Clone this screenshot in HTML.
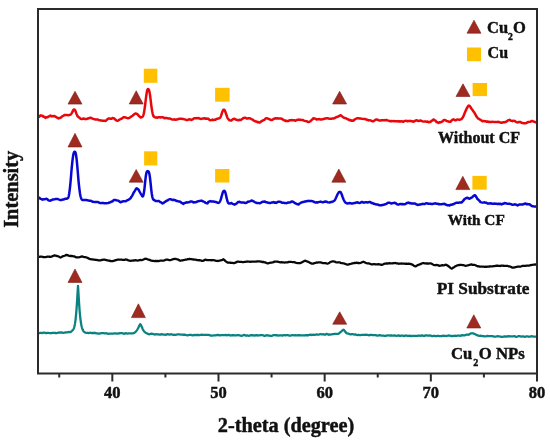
<!DOCTYPE html>
<html><head><meta charset="utf-8"><style>
html,body{margin:0;padding:0;background:#fff;}
svg{display:block;}
text{font-family:"Liberation Serif","Times New Roman",serif;font-weight:bold;fill:#111;stroke:#111;stroke-width:0.45px;}
.tl{font-size:16.5px;}
.lab{font-size:16px;}
.ax{font-size:20px;}
.tri{fill:#9e2a20;stroke:#7d1f18;stroke-width:0.6;}
.sq{fill:#ffc000;}
.c{fill:none;stroke-width:2.5;stroke-linejoin:round;stroke-linecap:round;}
</style></head><body>
<svg width="550" height="441" viewBox="0 0 550 441">
<rect width="550" height="441" fill="#fff"/>
<polyline class="c" stroke="#e8080c" points="38.50,117.25 39.50,116.56 40.50,115.37 41.50,115.65 42.50,115.69 43.50,116.78 44.50,116.85 45.50,117.90 46.50,117.13 47.50,117.33 48.50,116.47 49.50,116.14 50.50,115.56 51.50,116.30 52.50,116.12 53.50,116.17 54.50,115.94 55.50,116.67 56.50,117.31 57.50,117.72 58.50,118.44 59.50,117.94 60.50,117.73 61.50,117.10 62.50,116.16 63.50,115.66 64.50,115.11 65.50,115.08 66.40,115.10 66.50,115.11 66.65,115.10 66.90,115.08 67.15,115.09 67.40,115.12 67.50,115.13 67.65,115.14 67.90,115.15 68.15,115.16 68.40,115.16 68.50,115.16 68.65,115.13 68.90,115.07 69.15,115.00 69.40,114.92 69.50,114.89 69.65,114.87 69.90,114.82 70.15,114.74 70.40,114.62 70.50,114.57 70.65,114.46 70.90,114.24 71.15,113.96 71.40,113.61 71.50,113.45 71.65,113.23 71.90,112.81 72.15,112.36 72.40,111.88 72.50,111.69 72.65,111.37 72.90,110.85 73.15,110.37 73.40,109.96 73.50,109.82 73.65,109.68 73.90,109.53 74.15,109.49 74.40,109.55 74.50,109.60 74.65,109.72 74.90,110.01 75.15,110.40 75.40,110.91 75.50,111.13 75.65,111.51 75.90,112.18 76.15,112.89 76.40,113.62 76.50,113.91 76.65,114.26 76.90,114.81 77.15,115.37 77.40,115.92 77.50,116.12 77.65,116.32 77.90,116.62 78.15,116.84 78.40,117.02 78.50,117.08 78.65,117.19 78.90,117.35 79.15,117.48 79.40,117.59 79.50,117.63 79.65,117.80 79.90,118.09 80.15,118.36 80.40,118.64 80.50,118.74 80.65,118.84 80.90,118.88 81.15,118.92 81.40,118.96 81.50,118.97 81.65,118.97 81.90,118.96 82.15,118.95 82.40,118.94 82.50,118.93 83.50,118.52 84.50,118.93 85.50,119.04 86.50,119.08 87.50,118.60 88.50,118.43 89.50,117.96 90.50,117.84 91.50,118.01 92.50,118.54 93.50,118.95 94.50,119.34 95.50,119.41 96.50,119.61 97.50,119.48 98.50,119.95 99.50,120.12 100.50,120.48 101.50,120.56 102.50,120.68 103.50,120.83 104.50,120.79 105.50,121.04 106.50,120.17 107.50,119.23 108.50,118.39 109.50,118.52 110.50,118.82 111.50,118.79 112.50,118.05 113.50,118.14 114.50,118.75 115.50,119.77 116.50,120.52 117.50,120.78 118.50,120.32 119.50,119.61 120.50,119.18 121.50,118.69 122.50,118.10 123.50,117.28 124.50,117.33 125.50,117.42 126.50,117.91 127.50,118.16 128.00,118.18 128.25,118.19 128.50,118.19 128.75,118.10 129.00,118.00 129.25,117.89 129.50,117.77 129.75,117.61 130.00,117.41 130.25,117.20 130.50,116.98 130.75,116.87 131.00,116.74 131.25,116.59 131.50,116.44 131.75,116.28 132.00,116.10 132.25,115.92 132.50,115.72 132.75,115.51 133.00,115.29 133.25,115.10 133.50,114.91 133.75,114.69 134.00,114.48 134.25,114.28 134.50,114.09 134.75,113.91 135.00,113.75 135.25,113.61 135.50,113.51 135.75,113.54 136.00,113.60 136.25,113.69 136.50,113.81 136.75,113.88 137.00,113.98 137.25,114.10 137.50,114.25 137.75,114.55 138.00,114.86 138.25,115.19 138.50,115.53 138.75,115.75 139.00,115.97 139.25,116.18 139.50,116.39 139.75,116.66 140.00,116.92 140.20,117.12 140.25,117.17 140.45,117.36 140.50,117.40 140.70,117.42 140.75,117.42 140.95,117.41 141.00,117.41 141.20,117.36 141.25,117.34 141.45,117.26 141.50,117.24 141.70,117.22 141.75,117.22 141.95,117.16 142.00,117.13 142.20,117.02 142.25,116.98 142.45,116.80 142.50,116.75 142.70,116.50 142.75,116.42 142.95,116.07 143.00,115.97 143.20,115.51 143.25,115.37 143.45,114.77 143.50,114.60 143.70,113.85 143.75,113.64 143.95,112.73 144.00,112.48 144.20,111.41 144.45,109.89 144.50,109.56 144.70,108.16 144.95,106.27 145.20,104.27 145.45,102.21 145.50,101.80 145.70,100.13 145.95,98.08 146.20,96.15 146.45,94.38 146.50,94.05 146.70,92.83 146.95,91.53 147.20,90.50 147.45,89.75 147.50,89.63 147.70,89.31 147.95,89.12 148.20,89.10 148.45,89.20 148.50,89.23 148.70,89.48 148.95,90.00 149.20,90.79 149.45,91.85 149.50,92.10 149.70,93.17 149.95,94.74 150.20,96.51 150.45,98.45 150.50,98.85 150.70,100.47 150.95,102.54 151.20,104.59 151.45,106.58 151.50,106.96 151.70,108.35 151.95,109.93 152.20,111.34 152.45,112.56 152.50,112.78 152.70,113.71 152.95,114.70 153.20,115.51 153.45,116.13 153.50,116.23 153.70,116.47 153.95,116.67 154.20,116.77 154.45,116.81 154.50,116.80 154.70,116.99 154.95,117.18 155.20,117.34 155.45,117.48 155.50,117.51 155.70,117.52 155.95,117.52 156.20,117.52 156.50,117.51 157.50,117.75 158.50,117.17 159.50,117.23 160.50,117.55 161.50,117.16 162.50,117.30 163.50,117.49 164.50,118.26 165.50,117.97 166.50,118.06 167.50,118.21 168.50,118.62 169.50,118.40 170.50,118.77 171.50,119.23 172.50,119.50 173.50,119.63 174.50,119.31 175.50,119.77 176.50,119.57 177.50,119.47 178.50,118.94 179.50,118.81 180.50,118.71 181.50,118.83 182.50,118.93 183.50,119.05 184.50,119.34 185.50,119.64 186.50,120.05 187.50,120.10 188.50,119.49 189.50,119.30 190.50,119.60 191.50,120.00 192.50,119.46 193.50,118.65 194.50,118.25 195.50,118.21 196.50,118.12 197.50,118.16 198.50,118.06 199.50,118.51 200.50,118.69 201.50,118.95 202.50,118.56 203.50,118.55 204.50,118.19 205.50,118.77 206.50,118.48 207.50,118.66 208.50,118.73 209.50,120.00 210.50,120.21 211.50,120.12 212.50,119.60 213.50,120.04 214.50,119.71 215.50,119.67 215.90,119.42 216.15,119.26 216.40,119.10 216.50,119.04 216.65,118.96 216.90,118.84 217.15,118.76 217.40,118.70 217.50,118.68 217.65,118.66 217.90,118.62 218.15,118.57 218.40,118.50 218.50,118.47 218.65,118.45 218.90,118.39 219.15,118.29 219.40,118.15 219.50,118.07 219.65,118.00 219.90,117.83 220.15,117.59 220.40,117.28 220.50,117.13 220.65,116.79 220.90,116.16 221.15,115.48 221.40,114.75 221.50,114.45 221.65,113.98 221.90,113.18 222.15,112.42 222.40,111.70 222.50,111.43 222.65,111.07 222.90,110.55 223.15,110.13 223.40,109.84 223.50,109.75 223.65,109.70 223.90,109.69 224.15,109.77 224.40,109.95 224.50,110.06 224.65,110.27 224.90,110.72 225.15,111.29 225.40,111.95 225.50,112.23 225.65,112.63 225.90,113.32 226.15,114.04 226.40,114.76 226.50,115.04 226.65,115.50 226.90,116.24 227.15,116.93 227.40,117.54 227.50,117.77 227.65,118.06 227.90,118.48 228.15,118.83 228.40,119.12 228.50,119.22 228.65,119.41 228.90,119.70 229.15,119.95 229.40,120.17 229.50,120.25 229.65,120.29 229.90,120.34 230.15,120.38 230.40,120.42 230.50,120.43 230.65,120.45 230.90,120.49 231.15,120.48 231.40,120.44 231.50,120.42 231.65,120.26 231.90,120.00 232.50,119.36 233.50,118.99 234.50,118.69 235.50,119.31 236.50,119.78 237.50,119.96 238.50,120.34 239.50,119.77 240.50,120.11 241.50,119.41 242.50,118.94 243.50,117.90 244.50,117.81 245.50,117.78 246.50,118.46 247.50,118.44 248.50,118.24 249.50,118.21 250.50,118.64 251.50,119.14 252.50,119.57 253.50,120.34 254.50,121.00 255.50,121.45 256.50,121.49 257.50,122.13 258.50,122.08 259.50,122.57 260.50,122.04 261.50,121.12 262.50,120.80 263.50,120.13 264.50,119.84 265.50,118.59 266.50,118.15 267.50,118.45 268.50,118.86 269.50,119.26 270.50,119.81 271.50,119.94 272.50,119.70 273.50,119.00 274.50,118.63 275.50,118.30 276.50,118.52 277.50,118.33 278.50,118.40 279.50,118.50 280.50,118.59 281.50,118.75 282.50,119.20 283.50,119.95 284.50,120.35 285.50,120.93 286.50,120.79 287.50,121.13 288.50,120.97 289.50,120.22 290.50,120.35 291.50,120.09 292.50,120.29 293.50,120.32 294.50,120.37 295.50,120.71 296.50,120.09 297.50,119.98 298.50,119.53 299.50,119.86 300.50,119.68 301.50,119.95 302.50,119.92 303.50,120.46 304.50,120.87 305.50,121.04 306.50,121.18 307.50,121.70 308.50,121.92 309.50,121.75 310.50,121.24 311.50,120.17 312.50,119.28 313.50,118.22 314.50,118.51 315.50,118.77 316.50,119.54 317.50,119.19 318.50,119.27 319.50,119.08 320.50,119.46 321.50,119.43 322.50,119.32 323.50,118.97 324.50,118.85 325.50,118.40 326.50,118.27 327.50,118.17 328.50,118.54 329.50,118.74 330.50,118.69 331.50,118.69 331.80,118.62 332.05,118.56 332.30,118.49 332.50,118.43 332.55,118.44 332.80,118.47 333.05,118.48 333.30,118.46 333.50,118.43 333.55,118.43 333.80,118.38 334.05,118.32 334.30,118.26 334.50,118.21 334.55,118.18 334.80,118.02 335.05,117.85 335.30,117.69 335.50,117.55 335.55,117.53 335.80,117.40 336.05,117.28 336.30,117.15 336.50,117.05 336.55,117.04 336.80,116.99 337.05,116.93 337.30,116.89 337.50,116.85 337.55,116.83 337.80,116.69 338.05,116.56 338.30,116.45 338.50,116.36 338.55,116.33 338.80,116.19 339.05,116.06 339.30,115.94 339.50,115.86 339.55,115.82 339.80,115.64 340.05,115.48 340.30,115.33 340.50,115.22 340.55,115.24 340.80,115.36 341.05,115.49 341.30,115.64 341.50,115.76 341.55,115.81 341.80,116.05 342.05,116.29 342.30,116.55 342.50,116.76 342.55,116.79 342.80,116.97 343.05,117.15 343.30,117.34 343.50,117.49 343.55,117.51 343.80,117.62 344.05,117.73 344.30,117.84 344.50,117.92 344.55,117.94 344.80,118.00 345.05,118.07 345.30,118.13 345.50,118.17 345.55,118.18 345.80,118.25 346.05,118.32 346.30,118.37 346.50,118.41 346.55,118.46 346.80,118.67 347.05,118.88 347.30,119.09 347.50,119.25 347.55,119.26 347.80,119.33 348.50,119.49 349.50,120.20 350.50,119.98 351.50,120.77 352.50,120.59 353.50,120.65 354.50,119.68 355.50,119.06 356.50,118.45 357.50,118.30 358.50,118.28 359.50,118.55 360.50,118.39 361.50,118.72 362.50,118.87 363.50,118.90 364.50,119.03 365.50,118.91 366.50,119.64 367.50,119.76 368.50,120.38 369.50,120.18 370.50,120.38 371.50,120.81 372.50,121.24 373.50,121.15 374.50,120.42 375.50,119.75 376.50,119.50 377.50,119.62 378.50,120.26 379.50,120.41 380.50,120.47 381.50,120.15 382.50,120.25 383.50,120.14 384.50,120.12 385.50,120.23 386.50,119.99 387.50,120.37 388.50,120.67 389.50,121.10 390.50,121.25 391.50,121.08 392.50,121.13 393.50,121.04 394.50,121.22 395.50,121.31 396.50,121.18 397.50,121.16 398.50,121.54 399.50,121.31 400.50,121.51 401.50,121.16 402.50,121.69 403.50,121.65 404.50,120.98 405.50,120.87 406.50,120.75 407.50,121.31 408.50,120.99 409.50,121.03 410.50,120.87 411.50,121.37 412.50,121.26 413.50,121.82 414.50,121.17 415.50,120.60 416.50,120.23 417.50,120.58 418.50,121.05 419.50,120.70 420.50,120.57 421.50,120.87 422.50,121.35 423.50,121.60 424.50,121.58 425.50,121.58 426.50,121.65 427.50,121.53 428.50,122.32 429.50,121.96 430.50,121.89 431.50,120.74 432.50,120.52 433.50,119.47 434.50,120.01 435.50,120.51 436.50,122.11 437.50,122.29 438.50,123.00 439.50,122.20 440.50,122.39 441.50,121.87 442.50,121.41 443.50,120.23 444.50,119.97 445.50,120.12 446.50,120.93 447.50,121.13 448.50,121.56 449.50,121.78 450.50,121.79 451.50,120.61 452.50,119.65 453.50,119.33 454.50,120.00 455.50,120.34 456.50,119.90 457.50,119.46 458.50,119.63 459.50,119.90 460.50,119.46 461.50,119.06 462.50,117.96 463.50,116.13 464.50,113.53 465.50,111.11 466.50,108.90 467.50,107.06 468.50,105.61 469.50,105.77 470.50,107.07 471.50,108.76 472.50,110.00 473.50,111.51 474.50,112.84 475.50,114.70 476.50,116.55 477.50,117.84 478.50,118.69 479.50,119.23 480.50,119.83 481.50,120.53 482.50,121.29 483.50,120.89 484.50,121.27 485.50,121.17 486.50,121.78 487.50,121.51 488.50,121.93 489.50,121.85 490.50,121.92 491.50,122.03 492.50,121.79 493.50,121.88 494.50,121.91 495.50,122.04 496.50,122.12 497.50,121.90 498.50,121.84 499.50,122.24 500.50,122.49 501.50,122.73 502.50,122.49 503.50,122.26 504.50,122.26 505.50,122.07 506.50,121.44 507.50,120.79 508.50,120.15 509.50,119.81 510.50,120.47 511.50,120.82 512.50,121.17 513.50,120.70 514.50,120.89 515.50,121.52 516.50,122.02 517.50,122.46 518.50,122.10 519.50,122.08 520.50,122.12 521.50,122.72 522.50,123.03 523.50,123.15 524.50,123.21 525.50,123.31 526.50,122.82 527.50,122.29 528.50,121.98 529.50,121.88 530.50,121.78 531.50,121.05 532.50,121.07 533.50,121.53 534.50,121.81 535.50,122.19 536.50,122.51"/>
<polyline class="c" stroke="#0808d2" points="38.50,197.62 39.50,197.77 40.50,198.90 41.50,199.15 42.50,199.70 43.50,199.28 44.50,199.26 45.50,199.06 46.50,198.75 47.50,199.34 48.50,200.30 49.50,200.70 50.50,200.49 51.50,200.03 52.50,199.58 53.50,199.53 54.50,199.38 55.50,199.04 56.50,199.05 57.50,198.88 58.50,199.31 59.50,199.67 60.50,199.94 61.50,199.94 62.50,199.61 63.50,199.48 64.50,199.06 65.50,198.73 66.50,198.71 66.60,198.70 66.85,198.65 67.10,198.56 67.35,198.41 67.50,198.28 67.60,198.24 67.85,198.06 68.10,197.77 68.35,197.33 68.50,196.98 68.60,196.57 68.85,195.41 69.10,194.03 69.35,192.41 69.50,191.32 69.60,190.60 69.85,188.63 70.10,186.41 70.35,183.96 70.50,182.39 70.60,181.26 70.85,178.33 71.10,175.29 71.35,172.20 71.50,170.35 71.60,169.25 71.85,166.58 72.10,164.05 72.35,161.72 72.50,160.44 72.60,159.57 72.85,157.58 73.10,155.91 73.35,154.56 73.50,153.92 73.60,153.51 73.85,152.72 74.10,152.20 74.35,151.92 74.50,151.84 74.60,151.81 74.85,151.78 75.10,151.91 75.35,152.28 75.50,152.64 75.60,152.97 75.85,154.01 76.10,155.38 76.35,157.09 76.50,158.26 76.60,159.12 76.85,161.45 77.10,164.03 77.35,166.82 77.50,168.56 77.60,169.75 77.85,172.77 78.10,175.80 78.35,178.78 78.50,180.52 78.60,181.59 78.85,184.12 79.10,186.46 79.35,188.56 79.50,189.71 79.60,190.53 79.85,192.39 80.10,194.00 80.35,195.38 80.50,196.09 80.60,196.50 80.85,197.37 81.10,198.07 81.35,198.62 81.50,198.89 81.60,199.07 81.85,199.45 82.10,199.75 82.35,199.99 82.50,200.11 82.60,200.12 83.50,200.06 84.50,199.88 85.50,199.92 86.50,199.96 87.50,200.33 88.50,200.59 89.50,200.68 90.50,200.67 91.50,201.11 92.50,201.73 93.50,201.85 94.50,202.11 95.50,202.11 96.50,202.07 97.50,202.10 98.50,202.23 99.50,202.82 100.50,203.16 101.50,202.89 102.50,203.08 103.50,203.01 104.50,203.32 105.50,203.16 106.50,203.21 107.50,203.12 108.50,202.92 109.50,202.39 110.50,202.28 111.50,201.56 112.50,201.51 113.50,200.29 114.50,199.93 115.50,199.97 116.50,200.36 117.50,200.59 118.50,200.65 119.50,201.56 120.50,202.14 121.50,202.09 122.50,201.37 123.50,201.20 124.50,201.37 125.50,201.37 126.50,200.75 127.50,200.11 128.50,199.79 128.80,199.58 129.05,199.39 129.30,199.18 129.50,199.01 129.55,198.97 129.80,198.80 130.05,198.61 130.30,198.46 130.50,198.32 130.55,198.25 130.80,197.85 131.05,197.43 131.30,196.98 131.50,196.60 131.55,196.54 131.80,196.22 132.05,195.87 132.30,195.49 132.50,195.18 132.55,195.07 132.80,194.55 133.05,194.00 133.30,193.45 133.50,193.00 133.55,192.92 133.80,192.50 134.05,192.09 134.30,191.69 134.50,191.38 134.55,191.29 134.80,190.85 135.05,190.45 135.30,190.08 135.50,189.81 135.55,189.72 135.80,189.28 136.05,188.89 136.30,188.56 136.50,188.34 136.55,188.34 136.80,188.37 137.05,188.46 137.30,188.61 137.50,188.78 137.55,188.80 137.80,188.95 138.05,189.15 138.30,189.40 138.50,189.63 138.55,189.72 138.80,190.17 139.05,190.64 139.30,191.15 139.50,191.56 139.55,191.64 139.80,192.06 140.05,192.49 140.30,192.91 140.50,193.24 140.55,193.33 140.80,193.73 141.05,194.11 141.30,194.47 141.50,194.73 141.55,194.84 141.80,195.36 142.05,195.82 142.30,196.21 142.50,196.42 142.55,196.43 142.80,196.37 143.05,196.08 143.30,195.51 143.50,194.83 143.55,194.62 143.80,193.37 144.05,191.80 144.30,189.96 144.50,188.32 144.55,187.84 144.80,185.42 145.05,182.96 145.30,180.57 145.50,178.78 145.55,178.36 145.80,176.43 146.05,174.78 146.30,173.45 146.50,172.61 146.55,172.44 146.80,171.80 147.05,171.40 147.30,171.19 147.50,171.11 147.55,171.11 147.80,171.15 148.05,171.20 148.30,171.32 148.50,171.50 148.55,171.56 148.80,171.98 149.05,172.63 149.30,173.58 149.50,174.57 149.55,174.85 149.80,176.43 150.05,178.31 150.30,180.44 150.50,182.27 150.55,182.75 150.80,185.16 151.05,187.56 151.30,189.85 151.50,191.54 151.55,191.94 151.80,193.78 152.05,195.33 152.30,196.66 152.50,197.52 152.55,197.70 152.80,198.46 153.05,199.02 153.30,199.43 153.50,199.67 153.55,199.71 153.80,199.90 154.05,200.03 154.30,200.06 154.50,200.08 154.55,200.13 154.80,200.35 155.05,200.58 155.30,200.80 155.50,200.98 155.55,200.98 155.80,200.97 156.50,200.97 157.50,201.13 158.50,200.90 159.50,201.52 160.50,202.21 161.50,202.65 162.50,203.37 163.50,203.01 164.50,202.16 165.50,201.68 166.50,200.66 167.50,200.42 168.50,199.61 169.50,199.33 170.50,199.33 171.50,199.50 172.50,200.08 173.50,199.70 174.50,200.04 175.50,200.22 176.50,201.09 177.50,201.07 178.50,201.39 179.50,201.51 180.50,201.85 181.50,202.84 182.50,203.25 183.50,203.98 184.50,202.96 185.50,202.73 186.50,202.31 187.50,202.46 188.50,202.30 189.50,202.09 190.50,201.47 191.50,201.61 192.50,201.76 193.50,202.50 194.50,202.21 195.50,202.36 196.50,201.84 197.50,201.46 198.50,201.12 199.50,200.95 200.50,200.80 201.50,200.62 202.50,201.09 203.50,201.62 204.50,201.89 205.50,202.84 206.50,203.16 207.50,203.39 208.50,201.78 209.50,201.48 210.50,201.10 211.50,201.48 212.50,201.39 213.50,201.51 214.50,201.72 215.50,201.93 216.00,202.07 216.25,202.14 216.50,202.21 216.75,202.34 217.00,202.46 217.25,202.57 217.50,202.69 217.75,202.76 218.00,202.82 218.25,202.87 218.50,202.89 218.75,202.75 219.00,202.57 219.25,202.35 219.50,202.05 219.75,201.72 220.00,201.30 220.25,200.77 220.50,200.13 220.75,199.46 221.00,198.68 221.25,197.82 221.50,196.90 221.75,195.98 222.00,195.08 222.25,194.22 222.50,193.46 222.75,192.64 223.00,191.97 223.25,191.45 223.50,191.08 223.75,190.90 224.00,190.82 224.25,190.82 224.50,190.91 224.75,191.21 225.00,191.65 225.25,192.25 225.50,192.99 225.75,193.99 226.00,195.08 226.25,196.22 226.50,197.37 226.75,198.45 227.00,199.47 227.25,200.41 227.50,201.24 227.75,201.91 228.00,202.47 228.25,202.92 228.50,203.27 228.75,203.43 229.00,203.52 229.25,203.55 229.50,203.55 229.75,203.53 230.00,203.49 230.25,203.44 230.50,203.38 230.75,203.30 231.00,203.22 231.25,203.13 231.50,203.04 231.75,203.24 232.00,203.43 232.50,203.82 233.50,204.13 234.50,204.64 235.50,204.22 236.50,203.54 237.50,202.58 238.50,201.91 239.50,201.85 240.50,202.36 241.50,202.56 242.50,202.43 243.50,202.52 244.50,202.76 245.50,203.04 246.50,202.82 247.50,201.85 248.50,201.81 249.50,201.39 250.50,201.14 251.50,200.54 252.50,200.70 253.50,201.33 254.50,202.00 255.50,202.51 256.50,202.88 257.50,202.89 258.50,203.12 259.50,203.20 260.50,202.94 261.50,202.32 262.50,201.71 263.50,201.77 264.50,201.44 265.50,201.96 266.50,202.22 267.50,202.55 268.50,202.84 269.50,203.00 270.50,202.95 271.50,202.54 272.50,202.46 273.50,202.09 274.50,202.81 275.50,202.48 276.50,202.90 277.50,202.03 278.50,201.82 279.50,201.68 280.50,201.90 281.50,202.45 282.50,202.71 283.50,202.76 284.50,203.00 285.50,203.10 286.50,203.13 287.50,202.78 288.50,202.58 289.50,202.47 290.50,202.37 291.50,201.50 292.50,201.58 293.50,201.98 294.50,202.84 295.50,203.26 296.50,203.96 297.50,204.36 298.50,204.46 299.50,203.53 300.50,203.01 301.50,202.45 302.50,202.11 303.50,202.00 304.50,201.60 305.50,201.62 306.50,201.24 307.50,201.02 308.50,200.86 309.50,200.89 310.50,201.07 311.50,201.04 312.50,201.15 313.50,201.58 314.50,202.17 315.50,202.55 316.50,202.35 317.50,202.51 318.50,202.12 319.50,201.86 320.50,201.62 321.50,201.92 322.50,202.30 323.50,202.20 324.50,201.77 325.50,201.49 326.50,201.71 327.50,202.28 328.50,202.37 329.50,202.55 330.50,202.07 331.50,202.09 331.60,202.05 331.85,201.94 332.10,201.82 332.35,201.69 332.50,201.61 332.60,201.58 332.85,201.51 333.10,201.42 333.35,201.32 333.50,201.25 333.60,201.19 333.85,201.04 334.10,200.85 334.35,200.61 334.50,200.44 334.60,200.31 334.85,199.95 335.10,199.53 335.35,199.06 335.50,198.75 335.60,198.56 335.85,198.07 336.10,197.54 336.35,196.97 336.50,196.62 336.60,196.39 336.85,195.83 337.10,195.27 337.35,194.73 337.50,194.42 337.60,194.21 337.85,193.71 338.10,193.27 338.35,192.91 338.50,192.72 338.60,192.58 338.85,192.29 339.10,192.09 339.35,191.97 339.50,191.93 339.60,191.90 339.85,191.86 340.10,191.89 340.35,192.01 340.50,192.12 340.60,192.24 340.85,192.59 341.10,193.02 341.35,193.52 341.50,193.84 341.60,194.11 341.85,194.80 342.10,195.52 342.35,196.26 342.50,196.71 342.60,196.98 342.85,197.65 343.10,198.29 343.35,198.91 343.50,199.26 343.60,199.50 343.85,200.05 344.10,200.55 344.35,200.99 344.50,201.24 344.60,201.40 344.85,201.79 345.10,202.12 345.35,202.41 345.50,202.57 345.60,202.65 345.85,202.82 346.10,202.97 346.35,203.09 346.50,203.15 346.60,203.20 346.85,203.29 347.10,203.37 347.35,203.45 347.50,203.50 347.60,203.46 348.50,203.13 349.50,203.06 350.50,203.15 351.50,203.48 352.50,203.56 353.50,203.13 354.50,202.90 355.50,202.95 356.50,202.41 357.50,202.30 358.50,202.86 359.50,203.12 360.50,202.66 361.50,201.97 362.50,201.97 363.50,202.63 364.50,202.50 365.50,202.25 366.50,202.29 367.50,202.46 368.50,202.22 369.50,202.10 370.50,202.06 371.50,203.05 372.50,203.11 373.50,203.66 374.50,203.76 375.50,204.30 376.50,204.43 377.50,204.60 378.50,204.80 379.50,205.27 380.50,205.18 381.50,205.25 382.50,204.92 383.50,204.69 384.50,204.52 385.50,204.15 386.50,203.84 387.50,202.94 388.50,202.65 389.50,202.67 390.50,203.05 391.50,203.55 392.50,203.11 393.50,202.88 394.50,202.80 395.50,202.90 396.50,204.02 397.50,204.41 398.50,204.61 399.50,204.13 400.50,203.89 401.50,204.18 402.50,204.00 403.50,204.14 404.50,204.17 405.50,203.93 406.50,203.24 407.50,202.82 408.50,202.62 409.50,203.13 410.50,203.11 411.50,203.49 412.50,203.45 413.50,203.59 414.50,203.44 415.50,203.68 416.50,204.45 417.50,204.90 418.50,204.85 419.50,204.58 420.50,204.56 421.50,204.12 422.50,203.86 423.50,204.01 424.50,204.06 425.50,203.56 426.50,203.14 427.50,203.46 428.50,203.77 429.50,203.71 430.50,203.71 431.50,204.00 432.50,204.07 433.50,203.62 434.50,203.41 435.50,203.36 436.50,203.73 437.50,203.63 438.50,204.15 439.50,204.12 440.50,204.36 441.50,204.31 442.50,203.92 443.50,203.94 444.50,203.72 445.50,204.50 446.50,204.70 447.50,205.31 448.50,205.13 449.50,205.49 450.50,204.87 451.50,204.87 452.50,204.33 453.50,204.25 454.50,203.55 455.50,203.11 456.50,202.70 457.50,202.82 458.50,202.72 459.50,202.58 460.50,202.42 461.50,202.61 462.50,201.56 463.50,200.34 464.50,199.12 465.50,198.52 466.50,197.95 467.50,197.69 468.50,198.39 469.50,198.81 470.50,198.18 471.50,197.63 472.50,196.89 473.50,195.96 474.50,195.20 475.50,195.72 476.50,197.29 477.50,199.03 478.50,199.94 479.50,200.90 480.50,202.08 481.50,202.37 482.50,202.63 483.50,202.50 484.50,202.33 485.50,202.69 486.50,202.77 487.50,203.49 488.50,203.41 489.50,203.42 490.50,203.20 491.50,203.57 492.50,203.78 493.50,203.66 494.50,203.61 495.50,203.74 496.50,203.82 497.50,203.99 498.50,203.72 499.50,204.12 500.50,203.79 501.50,204.39 502.50,203.86 503.50,203.83 504.50,202.98 505.50,203.16 506.50,203.51 507.50,203.64 508.50,203.78 509.50,203.76 510.50,204.14 511.50,204.34 512.50,204.80 513.50,204.66 514.50,204.35 515.50,204.47 516.50,204.94 517.50,205.45 518.50,204.85 519.50,204.48 520.50,204.52 521.50,204.46 522.50,204.61 523.50,203.91 524.50,203.96 525.50,203.40 526.50,204.13 527.50,204.05 528.50,204.36 529.50,204.14 530.50,205.12 531.50,205.73 532.50,206.36 533.50,206.36 534.50,206.61 535.50,206.60 536.50,206.65"/>
<polyline class="c" style="stroke-width:2.3" stroke="#080808" points="38.50,256.73 39.50,256.89 40.50,256.62 41.50,256.69 42.50,256.79 43.50,257.14 44.50,257.12 45.50,257.05 46.50,256.89 47.50,256.71 48.50,256.70 49.50,256.75 50.50,256.88 51.50,256.57 52.50,256.20 53.50,255.72 54.50,255.32 55.50,255.54 56.50,255.80 57.50,256.17 58.50,256.36 59.50,256.98 60.50,257.48 61.50,257.00 62.50,256.36 63.50,256.03 64.50,255.75 65.50,255.36 66.50,254.88 67.50,255.07 68.50,255.68 69.50,255.85 70.50,255.99 71.50,255.96 72.50,256.11 73.50,256.30 74.50,256.44 75.50,257.01 76.50,257.26 77.50,257.35 78.50,257.46 79.50,257.21 80.50,256.93 81.50,256.52 82.50,256.48 83.50,256.82 84.50,257.13 85.50,257.18 86.50,257.49 87.50,257.85 88.50,258.44 89.50,258.84 90.50,259.12 91.50,259.45 92.50,259.45 93.50,259.68 94.50,259.56 95.50,259.87 96.50,259.82 97.50,260.15 98.50,260.27 99.50,260.35 100.50,260.33 101.50,259.98 102.50,259.91 103.50,259.61 104.50,259.61 105.50,259.83 106.50,260.22 107.50,260.42 108.50,260.66 109.50,260.61 110.50,261.12 111.50,261.22 112.50,261.12 113.50,260.80 114.50,260.58 115.50,260.14 116.50,260.04 117.50,259.66 118.50,259.65 119.50,259.57 120.50,259.66 121.50,259.68 122.50,259.78 123.50,259.90 124.50,259.81 125.50,259.49 126.50,259.64 127.50,259.93 128.50,260.47 129.50,260.73 130.50,260.89 131.50,260.70 132.50,260.63 133.50,260.49 134.50,260.34 135.50,260.26 136.50,260.37 137.50,260.52 138.50,260.34 139.50,260.03 140.50,259.94 141.50,260.07 142.50,259.83 143.50,259.45 144.50,258.96 145.50,258.76 146.50,258.91 147.50,259.30 148.50,259.57 149.50,259.85 150.50,260.36 151.50,260.67 152.50,260.96 153.50,260.97 154.50,261.11 155.50,260.96 156.50,261.02 157.50,260.88 158.50,261.03 159.50,260.78 160.50,260.66 161.50,260.64 162.50,260.62 163.50,260.54 164.50,260.27 165.50,259.89 166.50,259.67 167.50,259.62 168.50,259.92 169.50,260.10 170.50,260.05 171.50,259.76 172.50,259.34 173.50,259.07 174.50,258.83 175.50,258.89 176.50,259.15 177.50,259.34 178.50,259.81 179.50,260.42 180.50,260.77 181.50,260.48 182.50,260.35 183.50,260.05 184.50,259.92 185.50,259.73 186.50,259.54 187.50,259.25 188.50,259.08 189.50,258.85 190.50,259.09 191.50,259.11 192.50,259.43 193.50,259.48 194.50,259.61 195.50,259.68 196.50,260.02 197.50,260.07 198.50,260.23 199.50,260.22 200.50,260.31 201.50,260.78 202.50,260.97 203.50,260.75 204.50,260.06 205.50,259.71 206.50,260.02 207.50,260.04 208.50,260.18 209.50,260.18 210.50,260.11 211.50,260.26 212.50,260.21 213.50,260.22 214.50,260.31 215.50,260.64 216.50,260.81 217.50,260.99 218.50,260.90 219.50,260.73 220.50,260.47 221.50,260.11 222.50,259.81 223.50,259.24 224.50,260.21 225.50,261.11 226.50,261.87 227.50,262.49 228.50,262.59 229.50,262.64 230.50,262.74 231.50,262.97 232.50,262.89 233.50,263.09 234.50,262.99 235.50,262.71 236.50,262.05 237.50,261.69 238.50,261.72 239.50,261.78 240.50,261.86 241.50,261.90 242.50,262.03 243.50,262.08 244.50,261.95 245.50,261.81 246.50,261.60 247.50,261.52 248.50,261.67 249.50,261.63 250.50,261.90 251.50,261.64 252.50,261.72 253.50,261.61 254.50,261.66 255.50,261.67 256.50,261.52 257.50,261.46 258.50,261.40 259.50,261.35 260.50,261.59 261.50,261.62 262.50,262.18 263.50,261.97 264.50,262.28 265.50,262.43 266.50,262.99 267.50,263.40 268.50,263.25 269.50,262.98 270.50,262.64 271.50,262.62 272.50,262.41 273.50,262.12 274.50,261.64 275.50,261.67 276.50,261.53 277.50,261.60 278.50,261.91 279.50,262.23 280.50,262.37 281.50,262.26 282.50,262.40 283.50,262.42 284.50,262.54 285.50,262.46 286.50,262.42 287.50,262.39 288.50,262.01 289.50,261.93 290.50,261.78 291.50,261.95 292.50,262.06 293.50,262.07 294.50,262.21 295.50,262.66 296.50,262.92 297.50,263.10 298.50,263.05 299.50,263.06 300.50,262.99 301.50,262.40 302.50,262.13 303.50,261.38 304.50,260.95 305.50,260.74 306.50,261.19 307.50,261.63 308.50,261.93 309.50,262.66 310.50,263.01 311.50,263.60 312.50,263.71 313.50,263.56 314.50,263.07 315.50,262.88 316.50,262.50 317.50,262.56 318.50,262.35 319.50,262.30 320.50,262.31 321.50,262.67 322.50,263.01 323.50,263.22 324.50,263.15 325.50,263.05 326.50,263.36 327.50,263.64 328.50,263.17 329.50,262.65 330.50,262.01 331.50,261.73 332.50,261.31 333.50,261.40 334.50,261.55 335.50,262.07 336.50,262.29 337.50,262.47 338.50,262.33 339.50,262.31 340.50,262.80 341.50,263.06 342.50,263.21 343.50,263.29 344.50,263.67 345.50,264.02 346.50,264.46 347.50,264.61 348.50,264.57 349.50,264.11 350.50,263.92 351.50,263.68 352.50,263.35 353.50,263.22 354.50,262.86 355.50,263.00 356.50,262.68 357.50,263.00 358.50,262.92 359.50,263.07 360.50,262.82 361.50,262.51 362.50,262.02 363.50,261.76 364.50,262.23 365.50,262.76 366.50,263.14 367.50,263.40 368.50,263.46 369.50,263.66 370.50,264.03 371.50,264.39 372.50,264.38 373.50,264.17 374.50,264.19 375.50,264.47 376.50,264.39 377.50,264.46 378.50,264.15 379.50,264.35 380.50,264.53 381.50,264.93 382.50,264.55 383.50,264.24 384.50,263.59 385.50,263.64 386.50,263.44 387.50,263.51 388.50,263.36 389.50,263.22 390.50,263.38 391.50,263.40 392.50,263.45 393.50,263.16 394.50,263.05 395.50,263.01 396.50,263.31 397.50,263.48 398.50,263.75 399.50,263.65 400.50,263.65 401.50,263.50 402.50,263.58 403.50,263.66 404.50,263.56 405.50,263.76 406.50,263.66 407.50,263.86 408.50,263.69 409.50,263.90 410.50,263.86 411.50,264.43 412.50,264.72 413.50,265.42 414.50,266.01 415.50,266.43 416.50,265.84 417.50,265.17 418.50,264.92 419.50,264.44 420.50,264.16 421.50,263.56 422.50,263.24 423.50,263.01 424.50,263.28 425.50,263.42 426.50,263.48 427.50,263.50 428.50,263.62 429.50,263.44 430.50,263.47 431.50,263.65 432.50,264.29 433.50,264.77 434.50,265.04 435.50,265.12 436.50,264.97 437.50,265.11 438.50,265.39 439.50,265.85 440.50,265.73 441.50,265.46 442.50,265.19 443.50,265.30 444.50,265.09 445.50,264.72 446.50,264.93 447.50,265.55 448.50,266.22 449.50,267.08 450.50,267.93 451.50,268.65 452.50,268.16 453.50,267.46 454.50,266.89 455.50,266.17 456.50,265.70 457.50,265.27 458.50,265.10 459.50,264.99 460.50,264.94 461.50,264.97 462.50,265.13 463.50,265.18 464.50,265.49 465.50,265.81 466.50,265.65 467.50,265.45 468.50,265.20 469.50,264.92 470.50,264.60 471.50,264.45 472.50,264.80 473.50,264.81 474.50,264.97 475.50,265.26 476.50,265.78 477.50,266.23 478.50,266.26 479.50,266.52 480.50,266.57 481.50,266.65 482.50,266.71 483.50,266.66 484.50,266.82 485.50,266.66 486.50,266.77 487.50,266.68 488.50,266.60 489.50,266.51 490.50,266.45 491.50,266.38 492.50,266.35 493.50,266.21 494.50,266.13 495.50,265.88 496.50,265.73 497.50,265.70 498.50,265.94 499.50,265.97 500.50,266.00 501.50,265.62 502.50,265.62 503.50,265.76 504.50,265.96 505.50,265.93 506.50,265.88 507.50,265.98 508.50,266.26 509.50,266.45 510.50,266.74 511.50,267.17 512.50,267.64 513.50,267.72 514.50,267.49 515.50,267.09 516.50,266.85 517.50,266.58 518.50,266.67 519.50,266.56 520.50,266.58 521.50,266.26 522.50,265.88 523.50,265.82 524.50,265.93 525.50,265.88 526.50,265.71 527.50,265.62 528.50,265.54 529.50,265.54 530.50,265.18 531.50,265.00 532.50,264.77 533.50,264.66 534.50,264.60 535.50,264.51 536.50,264.44"/>
<polyline class="c" style="stroke-width:2.3" stroke="#0b8282" points="38.50,333.01 39.50,333.09 40.50,332.92 41.50,332.95 42.50,333.04 43.50,332.69 44.50,332.65 45.50,332.99 46.50,333.14 47.50,332.87 48.50,332.92 49.50,333.08 50.50,333.05 51.50,333.12 52.50,332.87 53.50,332.85 54.50,332.88 55.50,333.01 56.50,333.16 57.50,332.87 58.50,332.55 59.50,332.50 60.50,332.62 61.50,332.37 62.50,332.64 63.50,332.83 64.50,332.69 65.50,332.40 66.50,332.39 67.50,332.36 68.50,331.99 69.50,332.21 70.00,332.19 70.25,332.17 70.50,332.14 70.75,331.95 71.00,331.75 71.25,331.52 71.50,331.28 71.75,331.07 72.00,330.83 72.25,330.55 72.50,330.23 72.75,330.02 73.00,329.75 73.25,329.40 73.50,328.98 73.75,328.45 74.00,327.81 74.25,327.04 74.50,326.12 74.75,324.91 75.00,323.51 75.25,321.90 75.50,320.04 75.75,317.81 76.00,315.30 76.25,312.48 76.50,309.32 76.75,305.90 77.00,302.16 77.25,298.11 77.50,293.85 77.75,289.53 78.00,285.88 78.25,289.48 78.50,293.75 78.75,298.01 79.00,302.05 79.25,305.80 79.50,309.21 79.75,312.28 80.00,315.02 80.25,317.45 80.50,319.59 80.75,321.44 81.00,323.06 81.25,324.46 81.50,325.67 81.75,326.77 82.00,327.73 82.25,328.55 82.50,329.26 82.75,329.86 83.00,330.38 83.25,330.82 83.50,331.20 83.75,331.48 84.00,331.72 84.25,331.93 84.50,332.10 84.75,332.26 85.00,332.40 85.25,332.53 85.50,332.63 85.75,332.71 86.00,332.78 86.50,332.89 87.50,332.96 88.50,333.19 89.50,332.82 90.50,332.73 91.50,333.05 92.50,332.94 93.50,332.99 94.50,332.90 95.50,332.98 96.50,333.31 97.50,333.29 98.50,333.61 99.50,333.64 100.50,333.28 101.50,333.13 102.50,333.19 103.50,333.17 104.50,333.35 105.50,333.41 106.50,333.26 107.50,333.69 108.50,333.87 109.50,333.61 110.50,333.67 111.50,333.64 112.50,333.57 113.50,333.60 114.50,333.36 115.50,333.43 116.50,333.71 117.50,333.59 118.50,333.28 119.50,333.25 120.50,333.05 121.50,333.03 122.50,333.24 123.50,333.65 124.50,333.73 125.50,333.16 126.50,333.37 127.50,333.57 128.50,333.43 129.50,333.46 130.50,333.45 131.50,333.30 132.30,333.30 132.50,333.29 132.55,333.29 132.80,333.28 133.05,333.26 133.30,333.23 133.50,333.21 133.55,333.18 133.80,333.05 134.05,332.91 134.30,332.76 134.50,332.62 134.55,332.59 134.80,332.43 135.05,332.24 135.30,332.04 135.50,331.86 135.55,331.81 135.80,331.56 136.05,331.29 136.30,330.99 136.50,330.72 136.55,330.66 136.80,330.33 137.05,329.96 137.30,329.57 137.50,329.23 137.55,329.15 137.80,328.74 138.05,328.30 138.30,327.84 138.50,327.46 138.55,327.35 138.80,326.82 139.05,326.28 139.30,325.76 139.50,325.37 139.55,325.27 139.80,324.82 140.05,324.46 140.30,324.25 140.50,324.41 140.55,324.46 140.80,324.81 141.05,325.24 141.30,325.73 141.50,326.15 141.55,326.27 141.80,326.87 142.05,327.48 142.30,328.07 142.50,328.54 142.55,328.65 142.80,329.16 143.05,329.66 143.30,330.12 143.50,330.46 143.55,330.53 143.80,330.87 144.05,331.18 144.30,331.46 144.50,331.65 144.55,331.71 144.80,331.98 145.05,332.22 145.30,332.44 145.50,332.59 145.55,332.63 145.80,332.81 146.05,332.96 146.30,333.10 146.50,333.20 146.55,333.22 146.80,333.33 147.05,333.42 147.30,333.50 147.50,333.56 147.55,333.59 147.80,333.73 148.05,333.86 148.30,333.98 148.50,334.07 149.50,334.29 150.50,333.79 151.50,333.71 152.50,333.80 153.50,334.04 154.50,334.51 155.50,334.34 156.50,334.26 157.50,334.34 158.50,334.34 159.50,334.68 160.50,334.60 161.50,334.16 162.50,334.35 163.50,334.64 164.50,334.65 165.50,334.75 166.50,334.55 167.50,334.11 168.50,334.39 169.50,334.65 170.50,334.32 171.50,334.22 172.50,334.60 173.50,334.83 174.50,334.72 175.50,334.84 176.50,334.71 177.50,334.42 178.50,334.41 179.50,334.43 180.50,334.54 181.50,334.59 182.50,334.66 183.50,334.74 184.50,334.74 185.50,334.93 186.50,335.18 187.50,335.34 188.50,335.16 189.50,334.96 190.50,334.87 191.50,335.00 192.50,335.33 193.50,335.09 194.50,334.98 195.50,335.03 196.50,334.89 197.50,334.98 198.50,334.95 199.50,335.07 200.50,334.91 201.50,334.67 202.50,334.90 203.50,334.85 204.50,334.93 205.50,334.87 206.50,334.83 207.50,334.85 208.50,334.83 209.50,335.14 210.50,335.52 211.50,335.61 212.50,335.53 213.50,335.38 214.50,335.47 215.50,335.43 216.50,335.07 217.50,334.92 218.50,335.00 219.50,335.37 220.50,335.25 221.50,335.03 222.50,335.07 223.50,335.08 224.50,335.07 225.50,334.92 226.50,335.24 227.50,335.15 228.50,334.80 229.50,335.17 230.50,335.48 231.50,335.40 232.50,335.21 233.50,335.26 234.50,335.27 235.50,335.41 236.50,335.38 237.50,335.10 238.50,335.11 239.50,335.29 240.50,335.56 241.50,335.81 242.50,335.56 243.50,335.09 244.50,334.95 245.50,335.51 246.50,335.66 247.50,335.40 248.50,335.76 249.50,335.58 250.50,335.25 251.50,335.27 252.50,335.12 253.50,335.34 254.50,335.67 255.50,335.25 256.50,335.24 257.50,335.49 258.50,335.37 259.50,335.43 260.50,335.20 261.50,335.12 262.50,335.17 263.50,335.51 264.50,336.00 265.50,335.72 266.50,335.19 267.50,335.36 268.50,335.51 269.50,335.60 270.50,335.93 271.50,335.92 272.50,335.55 273.50,335.13 274.50,335.09 275.50,335.23 276.50,335.18 277.50,335.38 278.50,335.63 279.50,335.44 280.50,335.27 281.50,335.37 282.50,335.65 283.50,335.24 284.50,335.07 285.50,335.32 286.50,335.16 287.50,335.15 288.50,335.29 289.50,335.63 290.50,335.62 291.50,335.26 292.50,335.06 293.50,335.24 294.50,335.31 295.50,335.17 296.50,335.40 297.50,335.42 298.50,335.25 299.50,335.21 300.50,335.41 301.50,335.43 302.50,335.33 303.50,335.39 304.50,335.30 305.50,335.26 306.50,335.20 307.50,335.27 308.50,335.32 309.50,334.82 310.50,334.64 311.50,335.02 312.50,334.96 313.50,334.66 314.50,334.78 315.50,334.62 316.50,334.41 317.50,334.61 318.50,334.68 319.50,334.40 320.50,334.04 321.50,334.41 322.50,334.45 323.50,334.17 324.50,334.64 325.50,334.55 326.50,333.79 327.50,334.26 328.50,334.73 329.50,334.31 330.50,334.55 331.50,334.43 332.50,334.18 333.50,334.14 334.50,333.80 335.30,333.82 335.50,333.82 335.55,333.82 335.80,333.85 336.05,333.87 336.30,333.88 336.50,333.90 336.55,333.90 336.80,333.91 337.05,333.91 337.30,333.90 337.50,333.89 337.55,333.89 337.80,333.86 338.05,333.82 338.30,333.77 338.50,333.72 338.55,333.69 338.80,333.53 339.05,333.36 339.30,333.16 339.50,333.00 339.55,332.96 339.80,332.75 340.05,332.51 340.30,332.26 340.50,332.04 340.55,332.01 340.80,331.86 341.05,331.69 341.30,331.50 341.50,331.34 341.55,331.29 341.80,331.02 342.05,330.77 342.30,330.53 342.50,330.37 342.55,330.31 342.80,330.06 343.05,329.88 343.30,329.78 343.50,329.75 343.55,329.77 343.80,329.93 344.05,330.15 344.30,330.42 344.50,330.66 344.55,330.73 344.80,331.08 345.05,331.44 345.30,331.80 345.50,332.07 345.55,332.13 345.80,332.41 346.05,332.67 346.30,332.91 346.50,333.09 346.55,333.12 346.80,333.24 347.05,333.34 347.30,333.42 347.50,333.47 347.55,333.49 347.80,333.54 348.05,333.58 348.30,333.60 348.50,333.62 348.55,333.64 348.80,333.76 349.05,333.87 349.30,333.97 349.50,334.05 349.55,334.07 349.80,334.17 350.05,334.27 350.30,334.36 350.50,334.43 350.55,334.42 350.80,334.37 351.05,334.32 351.30,334.27 351.50,334.23 352.50,334.05 353.50,334.26 354.50,334.55 355.50,334.47 356.50,334.79 357.50,335.02 358.50,334.74 359.50,335.11 360.50,335.15 361.50,334.97 362.50,334.88 363.50,334.88 364.50,334.78 365.50,334.73 366.50,334.94 367.50,334.83 368.50,335.02 369.50,335.28 370.50,334.87 371.50,334.96 372.50,335.14 373.50,335.14 374.50,335.20 375.50,335.09 376.50,335.31 377.50,335.71 378.50,335.44 379.50,335.12 380.50,335.34 381.50,335.60 382.50,335.63 383.50,335.54 384.50,335.80 385.50,335.86 386.50,335.60 387.50,335.43 388.50,335.47 389.50,335.57 390.50,335.49 391.50,335.47 392.50,335.71 393.50,335.66 394.50,335.50 395.50,335.63 396.50,335.85 397.50,335.61 398.50,335.34 399.50,335.75 400.50,335.90 401.50,335.54 402.50,335.56 403.50,335.99 404.50,335.88 405.50,335.49 406.50,335.55 407.50,335.95 408.50,335.89 409.50,335.73 410.50,335.99 411.50,336.01 412.50,335.81 413.50,335.82 414.50,335.90 415.50,335.93 416.50,335.97 417.50,335.87 418.50,335.54 419.50,335.63 420.50,335.88 421.50,335.47 422.50,335.48 423.50,335.85 424.50,335.85 425.50,335.43 426.50,335.34 427.50,335.57 428.50,335.64 429.50,335.44 430.50,335.53 431.50,335.98 432.50,336.03 433.50,335.94 434.50,335.84 435.50,336.01 436.50,336.10 437.50,335.89 438.50,335.87 439.50,336.04 440.50,336.18 441.50,336.15 442.50,335.84 443.50,335.69 444.50,335.85 445.50,335.97 446.50,336.09 447.50,335.75 448.50,335.48 449.50,335.60 450.50,335.87 451.50,336.15 452.50,336.00 453.50,335.97 454.50,335.80 455.50,335.72 456.50,335.78 457.50,335.67 458.50,335.61 459.50,335.70 460.50,335.84 461.50,335.43 462.50,335.13 463.50,335.31 464.50,335.39 464.75,335.30 465.00,335.21 465.25,335.11 465.50,335.01 465.75,334.91 466.00,334.81 466.25,334.72 466.50,334.63 466.75,334.64 467.00,334.65 467.25,334.64 467.50,334.64 467.75,334.67 468.00,334.71 468.25,334.73 468.50,334.75 468.75,334.64 469.00,334.52 469.25,334.40 469.50,334.28 469.75,334.09 470.00,333.90 470.25,333.72 470.50,333.53 470.75,333.47 471.00,333.42 471.25,333.37 471.50,333.34 471.75,333.30 472.00,333.27 472.25,333.27 472.50,333.28 472.75,333.31 473.00,333.36 473.25,333.42 473.50,333.50 473.75,333.59 474.00,333.70 474.25,333.81 474.50,333.93 474.75,334.04 475.00,334.15 475.25,334.27 475.50,334.38 475.75,334.52 476.00,334.65 476.25,334.78 476.50,334.91 476.75,335.03 477.00,335.15 477.25,335.27 477.50,335.37 477.75,335.46 478.00,335.54 478.25,335.61 478.50,335.68 478.75,335.74 479.00,335.80 479.25,335.84 479.50,335.88 479.75,335.85 480.00,335.82 480.25,335.79 480.50,335.75 481.50,335.78 482.50,336.03 483.50,336.16 484.50,336.28 485.50,336.42 486.50,336.22 487.50,335.98 488.50,336.16 489.50,336.11 490.50,336.06 491.50,336.12 492.50,336.11 493.50,336.54 494.50,336.62 495.50,336.52 496.50,336.42 497.50,336.25 498.50,336.31 499.50,336.34 500.50,336.71 501.50,336.96 502.50,336.83 503.50,336.61 504.50,336.49 505.50,336.49 506.50,336.71 507.50,336.40 508.50,336.15 509.50,336.26 510.50,336.46 511.50,336.43 512.50,336.41 513.50,336.43 514.50,336.14 515.50,336.55 516.50,336.88 517.50,336.52 518.50,336.10 519.50,336.10 520.50,336.46 521.50,336.61 522.50,336.38 523.50,336.47 524.50,336.83 525.50,336.58 526.50,336.36 527.50,336.42 528.50,336.60 529.50,336.75 530.50,336.49 531.50,336.22 532.50,336.43 533.50,336.65 534.50,336.57 535.50,336.59 536.50,336.64"/>
<polygon class="tri" points="68.0,104.1 82.0,104.1 75.0,91.3"/><polygon class="tri" points="129.2,104.0 143.2,104.0 136.2,90.8"/><polygon class="tri" points="332.6,104.0 346.6,104.0 339.6,91.3"/><polygon class="tri" points="456.0,96.5 470.0,96.5 463.0,83.8"/><rect class="sq" x="143.8" y="68.7" width="13.5" height="14.1"/><rect class="sq" x="215.1" y="87.8" width="14.5" height="13.9"/><rect class="sq" x="472.6" y="83.0" width="14.4" height="13.1"/><polygon class="tri" points="68.0,147.0 82.0,147.0 75.0,133.3"/><polygon class="tri" points="129.2,182.2 143.2,182.2 136.2,169.5"/><polygon class="tri" points="331.8,182.2 345.8,182.2 338.8,169.1"/><polygon class="tri" points="455.8,189.6 469.8,189.6 462.8,176.3"/><rect class="sq" x="144.1" y="151.3" width="13.2" height="14.1"/><rect class="sq" x="215.1" y="169.0" width="14.3" height="13.5"/><rect class="sq" x="472.4" y="175.9" width="14.3" height="13.7"/><polygon class="tri" points="68.0,282.5 82.0,282.5 75.0,269.0"/><polygon class="tri" points="131.4,317.6 145.4,317.6 138.4,303.8"/><polygon class="tri" points="332.7,324.2 346.7,324.2 339.7,311.8"/><polygon class="tri" points="466.8,328.0 480.8,328.0 473.8,314.8"/><polygon class="tri" points="467.0,33.2 481.0,33.2 474.0,20.2"/><rect class="sq" x="467.0" y="47.5" width="14.0" height="13.7"/>
<g stroke="#2b2b2b" stroke-width="2"><line x1="112.32" y1="373" x2="112.32" y2="381.5"/><line x1="218.49" y1="373" x2="218.49" y2="381.5"/><line x1="324.66" y1="373" x2="324.66" y2="381.5"/><line x1="430.83" y1="373" x2="430.83" y2="381.5"/><line x1="537.00" y1="373" x2="537.00" y2="381.5"/><line x1="59.23" y1="373" x2="59.23" y2="377.5"/><line x1="165.40" y1="373" x2="165.40" y2="377.5"/><line x1="271.57" y1="373" x2="271.57" y2="377.5"/><line x1="377.74" y1="373" x2="377.74" y2="377.5"/><line x1="483.91" y1="373" x2="483.91" y2="377.5"/></g>
<rect x="38" y="9" width="499" height="364.5" fill="none" stroke="#2b2b2b" stroke-width="2"/>
<text x="112.32" y="398.4" text-anchor="middle" class="tl">40</text><text x="218.49" y="398.4" text-anchor="middle" class="tl">50</text><text x="324.66" y="398.4" text-anchor="middle" class="tl">60</text><text x="430.83" y="398.4" text-anchor="middle" class="tl">70</text><text x="537.00" y="398.4" text-anchor="middle" class="tl">80</text>
<text class="ax" transform="translate(17.7,189.3) rotate(-90)" text-anchor="middle" style="font-size:20.4px">Intensity</text>
<text class="ax" x="286" y="431.6" style="font-size:20.3px" text-anchor="middle">2-theta (degree)</text>
<text class="lab" x="487" y="33.3" style="font-size:16.5px">Cu<tspan font-size="9.6" dy="7">2</tspan><tspan dy="-7">O</tspan></text>
<text class="lab" x="487.6" y="58">Cu</text>
<text class="lab" x="479" y="142.6" text-anchor="middle">Without CF</text>
<text class="lab" x="476.2" y="225.2" text-anchor="middle" style="font-size:15.3px">With CF</text>
<text class="lab" x="483" y="294.3" text-anchor="middle" style="font-size:17.3px">PI Substrate</text>
<text class="lab" x="451" y="358.8" style="font-size:16.7px">Cu<tspan font-size="10" dx="1" dy="7">2</tspan><tspan dx="0.5" dy="-7">O NPs</tspan></text>
</svg>
</body></html>
